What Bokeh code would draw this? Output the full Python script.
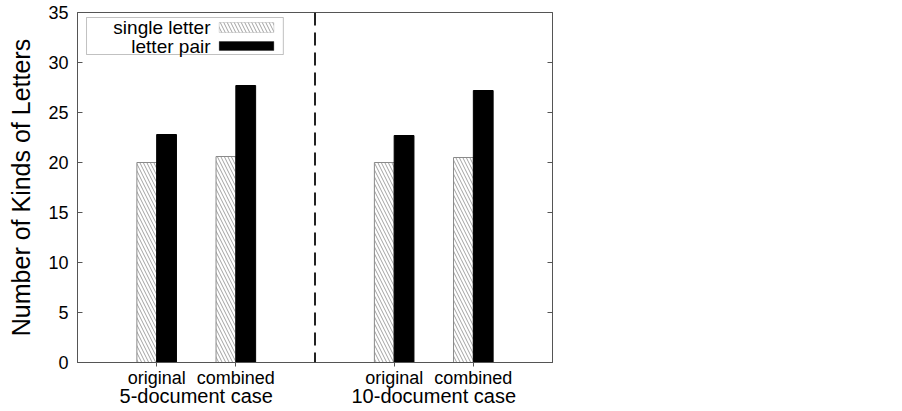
import numpy as np
from bokeh.plotting import figure
from bokeh.models import (Range1d, FixedTicker, LinearAxis, Span, BoxAnnotation, Label)
from bokeh.embed import file_html
from bokeh.resources import INLINE

groups = ["5-document case", "10-document case"]
methods = ["original", "combined"]
single_letter = [20.0, 20.6, 20.0, 20.5]
letter_pair = [22.8, 27.7, 22.7, 27.2]
y_ticks = [0, 5, 10, 15, 20, 25, 30, 35]

FONT = "Liberation Sans"
AX = "#555555"

# positions: each group occupies 3 units, methods at 1,2 within group
pos = []
for gi in range(len(groups)):
    for mi in range(len(methods)):
        pos.append(gi * 3 + mi + 1)
pos = np.array(pos, dtype=float)
group_centers = [gi * 3 + (len(methods) + 1) / 2 for gi in range(len(groups))]
bw = 0.25

p = figure(frame_width=475, frame_height=350, width=886, height=400,
           x_range=Range1d(0, 6), y_range=Range1d(0, 35),
           output_backend="svg", toolbar_location=None,
           min_border_left=77, min_border_right=334, min_border_top=12, min_border_bottom=38)
p.xgrid.visible = False
p.ygrid.visible = False
p.outline_line_color = AX
p.outline_line_alpha = 1.0
p.background_fill_color = "white"
p.border_fill_color = "white"

p.vbar(x=pos - bw / 2, top=single_letter, width=bw, bottom=0,
       fill_color="white", line_color="#8a8a8a", line_width=1,
       hatch_pattern="\\", hatch_color="#8a8a8a", hatch_scale=7, hatch_weight=0.8)
p.vbar(x=pos + bw / 2, top=letter_pair, width=bw, bottom=0,
       fill_color="black", line_color="black", line_width=1)

# divider
p.add_layout(Span(location=3, dimension="height", line_color="#222222",
                  line_width=2, line_dash="13 7"))

# x axis (methods)
xa = p.xaxis[0]
xa.ticker = FixedTicker(ticks=list(pos))
xa.major_label_overrides = {float(x): methods[i % len(methods)] for i, x in enumerate(pos)}
xa.major_label_overrides.update({int(x): methods[i % len(methods)] for i, x in enumerate(pos)})
xa.minor_tick_line_color = None
xa.major_tick_in = 0
xa.major_tick_out = 4
xa.major_tick_line_color = AX
xa.axis_line_color = AX
xa.major_label_standoff = 1
xa.major_label_text_font = FONT
xa.major_label_text_font_size = "18px"
xa.major_label_text_color = "black"

# group axis
ga = LinearAxis(ticker=FixedTicker(ticks=group_centers))
ga.major_label_overrides = {c: g for c, g in zip(group_centers, groups)}
ga.axis_line_color = None
ga.major_tick_line_color = None
ga.minor_tick_line_color = None
ga.major_tick_in = 0
ga.major_tick_out = 0
ga.major_label_standoff = -6
ga.major_label_text_font = FONT
ga.major_label_text_font_size = "20px"
ga.major_label_text_color = "black"
p.add_layout(ga, "below")

# y axis
ya = p.yaxis[0]
ya.ticker = FixedTicker(ticks=y_ticks)
ya.minor_tick_line_color = None
ya.major_tick_in = 5
ya.major_tick_out = 0
ya.major_tick_line_color = AX
ya.axis_line_color = AX
ya.major_label_standoff = 9
ya.major_label_text_font = FONT
ya.major_label_text_font_size = "18px"
ya.major_label_text_color = "black"
ya.axis_label = "Number of Kinds of Letters"
ya.axis_label_text_font = FONT
ya.axis_label_text_font_size = "25px"
ya.axis_label_text_font_style = "normal"
ya.axis_label_text_color = "black"
ya.axis_label_standoff = 10

ra = LinearAxis(ticker=FixedTicker(ticks=y_ticks))
ra.minor_tick_line_color = None
ra.major_tick_in = 5
ra.major_tick_out = 0
ra.major_tick_line_color = AX
ra.axis_line_color = AX
ra.major_label_text_color = None
p.add_layout(ra, "right")

# legend (drawn manually: label left of swatch)
legend_names = ["single letter", "letter pair"]
p.add_layout(BoxAnnotation(left=0.114, right=2.60, top=34.5, bottom=30.8,
                           fill_color="white", fill_alpha=1, line_color="#333333", line_width=1))
p.add_layout(BoxAnnotation(left=1.79, right=2.48, top=34.0, bottom=33.0,
                           fill_color="white", fill_alpha=1, line_color="#8a8a8a", line_width=1,
                           hatch_pattern="\\", hatch_color="#8a8a8a", hatch_scale=7, hatch_weight=0.8))
p.add_layout(BoxAnnotation(left=1.79, right=2.48, top=32.1, bottom=31.2,
                           fill_color="black", fill_alpha=1, line_color="black", line_width=1))
for name, yc in zip(legend_names, [33.5, 31.65]):
    p.add_layout(Label(x=1.68, y=yc, text=name, text_align="right", text_baseline="middle",
                       text_font=FONT, text_font_size="19px", text_color="black"))

open("out.html", "w").write(file_html(p, INLINE))
